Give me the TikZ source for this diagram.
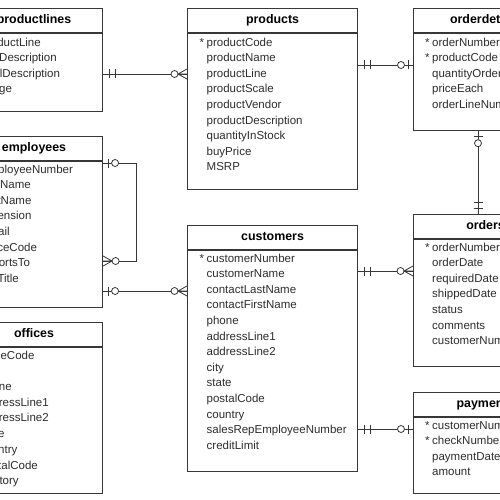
\documentclass[tikz,border=0pt]{standalone}
\usepackage{fontspec}
\setmainfont{Liberation Sans}
\usetikzlibrary{calc}
\definecolor{linegray}{RGB}{55, 55, 55}
\definecolor{textgray}{RGB}{45, 45, 45}
\newcommand{\fieldfont}{\fontsize{11.5}{13}\selectfont}
\newcommand{\headfont}{\fontsize{12.4}{14}\selectfont\bfseries}
\newcommand{\keyf}{\llap{*\hspace{2.5pt}}}
\tikzstyle{tablehead} = [rectangle, draw=linegray, line width=1.1pt, anchor=north west,
                         inner sep=0pt, font=\headfont, text height=9pt, text depth=2.5pt]
\tikzstyle{tablebody} = [rectangle, draw=linegray, line width=1.1pt, anchor=north west, inner sep=0pt]
\tikzstyle{field} = [anchor=base west, inner sep=0pt, font=\fieldfont, text=textgray]
\tikzstyle{rel} = [draw=linegray, line width=0.9pt]
\tikzstyle{marker} = [draw=linegray, line width=0.8pt]
\tikzset{
  onlyone/.pic={\draw[marker] (6,-4.5) -- (6,4.5) (12,-4.5) -- (12,4.5);},
  zeroone/.pic={\draw[marker] (5,-4.5) -- (5,4.5); \draw[marker, fill=white] (12,0) circle (3.5pt);},
  zeromany/.pic={\draw[marker] (0,-5) -- (9,0) -- (0,5) (0,0) -- (9,0);
                 \draw[marker, fill=white] (12.5,0) circle (3.5pt);}
}
\begin{document}
\begin{tikzpicture}[x=1pt, y=-1pt]

\useasboundingbox (0,0) rectangle (500,500);
\fill[white] (0,0) rectangle (500,500);
\clip (0,0) rectangle (500,500);

% Left column
\node[tablehead, minimum width=137pt, minimum height=24pt] (productlines) at (-35,8) {productlines};
\node[tablebody, minimum width=137pt, minimum height=78pt] (productlines-body) at (productlines.south west) {};
\foreach \f [count=\i from 0] in {\keyf productLine, textDescription, htmlDescription, image}
  \node[field] (productlines-\i) at ($(productlines-body.north west)+(15.5,13+15.6*\i)$) {\f};

\node[tablehead, minimum width=137pt, minimum height=24pt] (employees) at (-35,136) {employees};
\node[tablebody, minimum width=137pt, minimum height=146pt] (employees-body) at (employees.south west) {};
\foreach \f [count=\i from 0] in {\keyf employeeNumber, lastName, firstName, extension, email,
                                  officeCode, reportsTo, jobTitle}
  \node[field] (employees-\i) at ($(employees-body.north west)+(17,12+15.6*\i)$) {\f};

\node[tablehead, minimum width=137pt, minimum height=24pt] (offices) at (-35,322) {offices};
\node[tablebody, minimum width=137pt, minimum height=146pt] (offices-body) at (offices.south west) {};
\foreach \f [count=\i from 0] in {\keyf officeCode, city, phone, addressLine1, addressLine2,
                                  state, country, postalCode, territory}
  \node[field] (offices-\i) at ($(offices-body.north west)+(14.5,12+15.7*\i)$) {\f};

% Middle column
\node[tablehead, minimum width=170pt, minimum height=24pt] (products) at (187,8) {products};
\node[tablebody, minimum width=170pt, minimum height=156pt] (products-body) at (products.south west) {};
\foreach \f [count=\i from 0] in {\keyf productCode, productName, productLine, productScale,
                                  productVendor, productDescription, quantityInStock, buyPrice, MSRP}
  \node[field] (products-\i) at ($(products-body.north west)+(19.5,13+15.6*\i)$) {\f};

\node[tablehead, minimum width=170pt, minimum height=24pt] (customers) at (187,225) {customers};
\node[tablebody, minimum width=170pt, minimum height=221pt] (customers-body) at (customers.south west) {};
\foreach \f [count=\i from 0] in {\keyf customerNumber, customerName, contactLastName,
                                  contactFirstName, phone, addressLine1, addressLine2, city, state,
                                  postalCode, country, salesRepEmployeeNumber, creditLimit}
  \node[field] (customers-\i) at ($(customers-body.north west)+(19.5,12+15.6*\i)$) {\f};

% Right column
\node[tablehead, minimum width=144pt, minimum height=24pt] (orderdetails) at (413,8) {orderdetails};
\node[tablebody, minimum width=144pt, minimum height=97pt] (orderdetails-body) at (orderdetails.south west) {};
\foreach \f [count=\i from 0] in {\keyf orderNumber, \keyf productCode, quantityOrdered,
                                  priceEach, orderLineNumber}
  \node[field] (orderdetails-\i) at ($(orderdetails-body.north west)+(19,13+15.6*\i)$) {\f};

\node[tablehead, minimum width=144pt, minimum height=24pt] (orders) at (413,214) {orders};
\node[tablebody, minimum width=144pt, minimum height=127pt] (orders-body) at (orders.south west) {};
\foreach \f [count=\i from 0] in {\keyf orderNumber, orderDate, requiredDate, shippedDate,
                                  status, comments, customerNumber}
  \node[field] (orders-\i) at ($(orders-body.north west)+(19,12+15.6*\i)$) {\f};

\node[tablehead, minimum width=144pt, minimum height=24pt] (payments) at (413,392) {payments};
\node[tablebody, minimum width=144pt, minimum height=76pt] (payments-body) at (payments.south west) {};
\foreach \f [count=\i from 0] in {\keyf customerNumber, \keyf checkNumber, paymentDate, amount}
  \node[field] (payments-\i) at ($(payments-body.north west)+(19,12+15.6*\i)$) {\f};

% Relationship levels
\coordinate (pl-pr) at (0,74);
\coordinate (pr-od) at (0,65);
\coordinate (od-or) at (478,0);
\coordinate (loop-tr) at (136,163);
\coordinate (loop-br) at (136,261);
\coordinate (em-cu) at (0,291);
\coordinate (cu-or) at (0,271);
\coordinate (cu-pa) at (0,429);

% Relationships
\draw[rel] (productlines-body.east |- pl-pr) -- (products-body.west |- pl-pr);
\pic at (productlines-body.east |- pl-pr) {onlyone};
\pic[rotate=180] at (products-body.west |- pl-pr) {zeromany};

\draw[rel] (products-body.east |- pr-od) -- (orderdetails-body.west |- pr-od);
\pic at (products-body.east |- pr-od) {onlyone};
\pic[rotate=180] at (orderdetails-body.west |- pr-od) {zeroone};

\draw[rel] (orderdetails-body.south -| od-or) -- (orders.north -| od-or);
\pic[rotate=-90] at (orderdetails-body.south -| od-or) {zeroone};
\pic[rotate=90] at (orders.north -| od-or) {onlyone};

\draw[rel] (employees-body.east |- loop-tr) -- (loop-tr) -- (loop-br) -- (employees-body.east |- loop-br);
\pic at (employees-body.east |- loop-tr) {zeroone};
\pic at (employees-body.east |- loop-br) {zeromany};

\draw[rel] (employees-body.east |- em-cu) -- (customers-body.west |- em-cu);
\pic at (employees-body.east |- em-cu) {zeroone};
\pic[rotate=180] at (customers-body.west |- em-cu) {zeromany};

\draw[rel] (customers-body.east |- cu-or) -- (orders-body.west |- cu-or);
\pic at (customers-body.east |- cu-or) {onlyone};
\pic[rotate=180] at (orders-body.west |- cu-or) {zeromany};

\draw[rel] (customers-body.east |- cu-pa) -- (payments-body.west |- cu-pa);
\pic at (customers-body.east |- cu-pa) {onlyone};
\pic[rotate=180] at (payments-body.west |- cu-pa) {zeroone};

\end{tikzpicture}
\end{document}
